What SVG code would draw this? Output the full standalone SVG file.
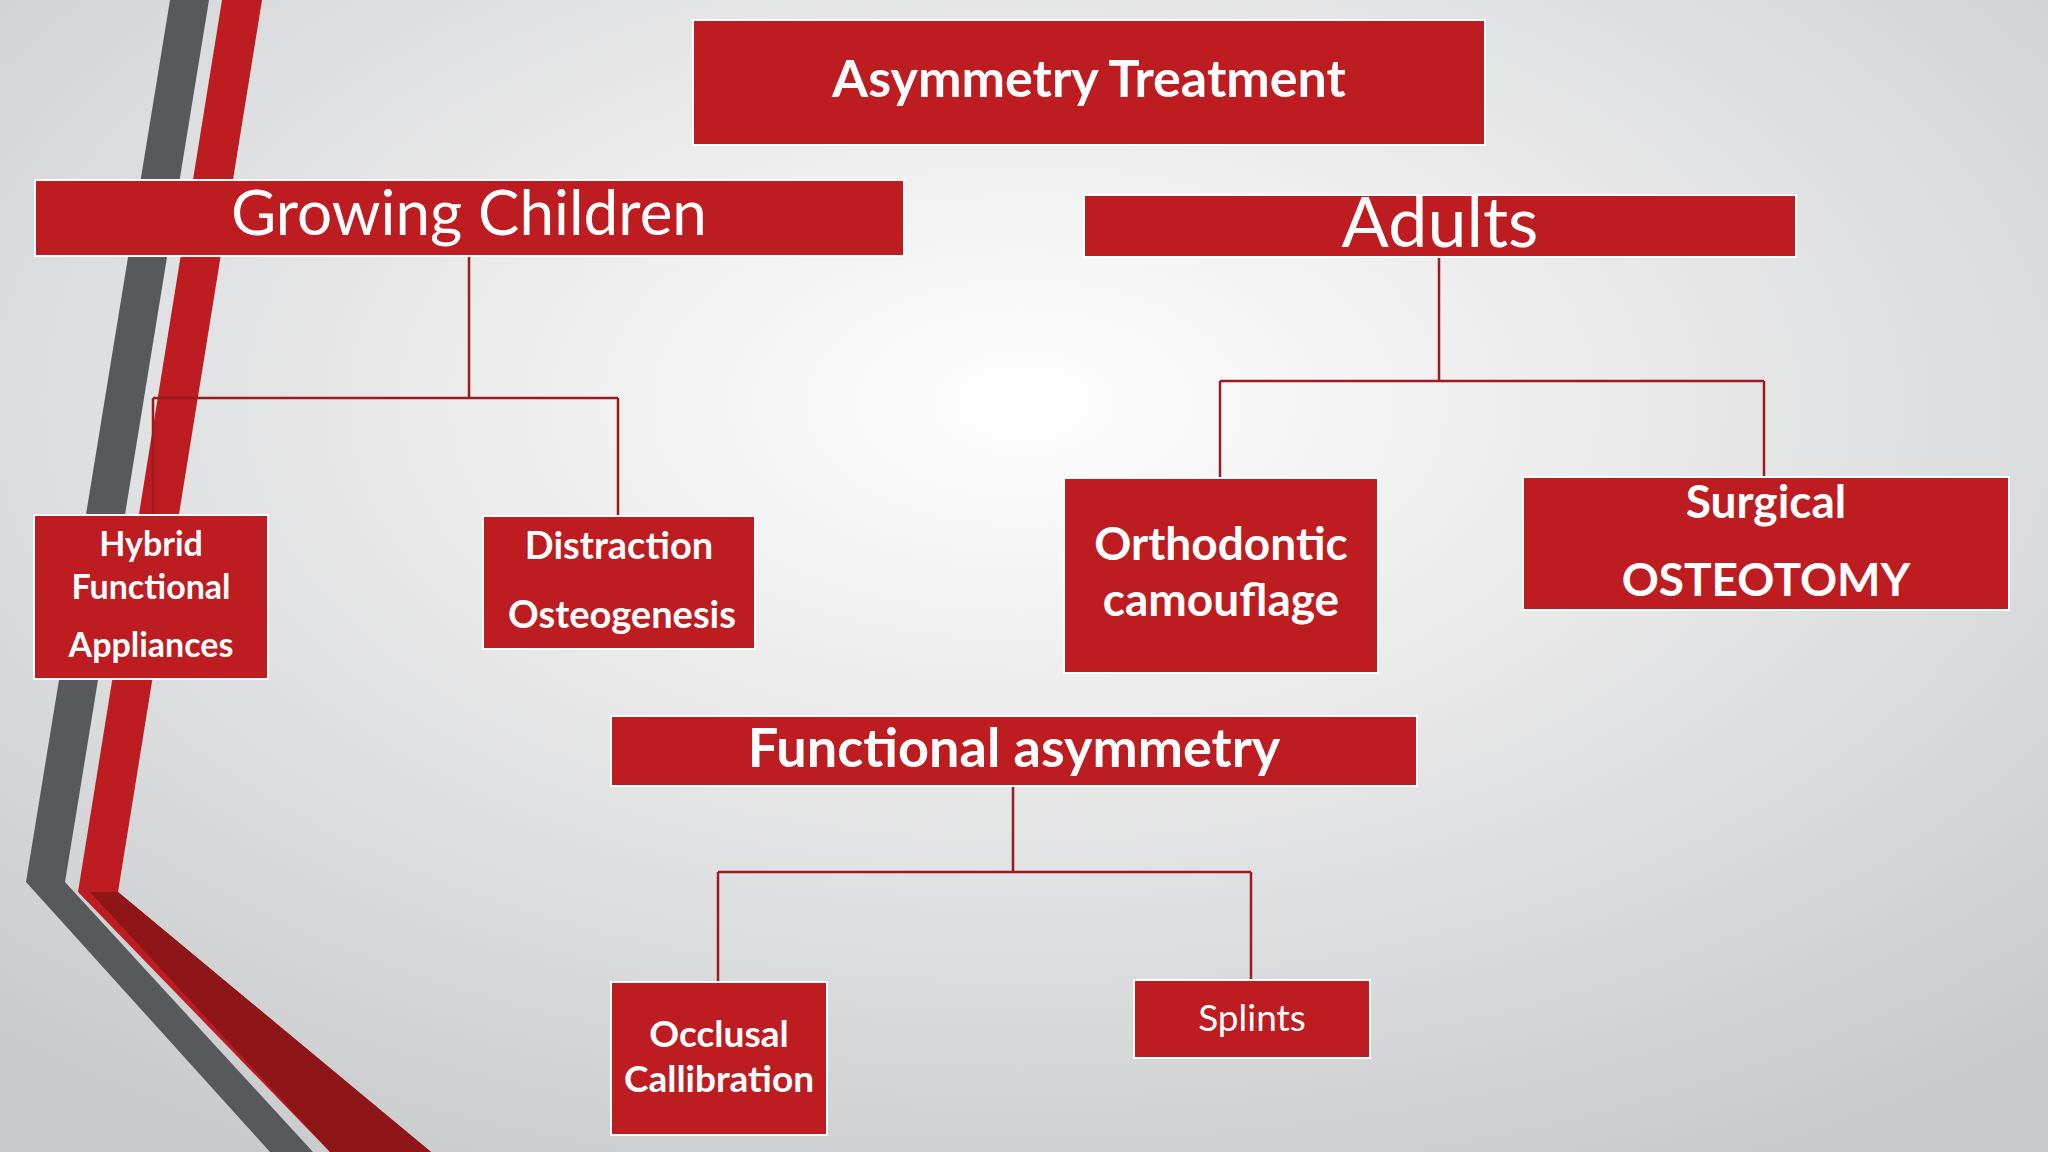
<svg xmlns="http://www.w3.org/2000/svg" width="2048" height="1152" viewBox="0 0 2048 1152">
<defs>
<radialGradient id="bg" cx="0.5" cy="0.35" r="0.75">
<stop offset="0" stop-color="#ffffff"/><stop offset="1" stop-color="#c9cacc"/>
</radialGradient>
<style>
.box{fill:#bd1c21;stroke:#ffffff;stroke-width:2}
.t{fill:#ffffff;font-family:Lato,"Open Sans","Liberation Sans",sans-serif;text-anchor:middle}
.b{font-weight:bold}
.ln{fill:none;stroke:#9b1b1f;stroke-width:2.5}
</style>
</defs>
<rect width="2048" height="1152" fill="url(#bg)"/>
<g id="stripes">
<polygon points="170,0 209,0 65,882 313,1152 270,1152 26,882" fill="#58595b"/>
<polygon points="222,0 262,0 118,892 431,1152 330,1152 78,892" fill="#bd1c21"/>
<polygon points="118,892 431,1152 330,1152 90,892" fill="#8e1518"/>
</g>
<g id="connectors">
<path class="ln" d="M469,256 V398 M153,398 H618 M153,398 V515 M618,398 V516"/>
<path class="ln" d="M1439,257 V381 M1220,381 H1764 M1220,381 V478 M1764,381 V477"/>
<path class="ln" d="M1013,786 V872 M718,872 H1251 M718,872 V982 M1251,872 V980"/>
</g>
<g id="title"><rect class="box" x="693" y="20" width="792" height="125"/><text class="t b" x="1089" y="97" font-size="52">Asymmetry Treatment</text></g>
<g id="growing"><rect class="box" x="35" y="180" width="869" height="76"/><text class="t" x="469" y="235" font-size="62">Growing Children</text></g>
<g id="adults"><rect class="box" x="1084" y="195" width="712" height="62"/><text class="t" x="1440" y="247" font-size="70">Adults</text></g>
<g id="hybrid"><rect class="box" x="34" y="515" width="234" height="164"/><text class="t b" x="151" y="556" font-size="34">Hybrid</text><text class="t b" x="151" y="599" font-size="34">Functional</text><text class="t b" x="151" y="657" font-size="34">Appliances</text></g>
<g id="distraction"><rect class="box" x="483" y="516" width="272" height="133"/><text class="t b" x="619" y="559" font-size="38">Distraction</text><text class="t b" x="622" y="628" font-size="38">Osteogenesis</text></g>
<g id="ortho"><rect class="box" x="1064" y="478" width="314" height="195"/><text class="t b" x="1221" y="560" font-size="46">Orthodontic</text><text class="t b" x="1221" y="616" font-size="46">camouflage</text></g>
<g id="surgical"><rect class="box" x="1523" y="477" width="486" height="133"/><text class="t b" x="1766" y="518" font-size="46">Surgical</text><text class="t b" x="1766" y="596" font-size="46">OSTEOTOMY</text></g>
<g id="functional"><rect class="box" x="611" y="716" width="806" height="70"/><text class="t b" x="1014" y="767" font-size="54">Functional asymmetry</text></g>
<g id="occlusal"><rect class="box" x="611" y="982" width="216" height="153"/><text class="t b" x="719" y="1047" font-size="37">Occlusal</text><text class="t b" x="719" y="1092" font-size="37">Callibration</text></g>
<g id="splints"><rect class="box" x="1134" y="980" width="236" height="78"/><text class="t" x="1252" y="1031" font-size="37">Splints</text></g>
</svg>
